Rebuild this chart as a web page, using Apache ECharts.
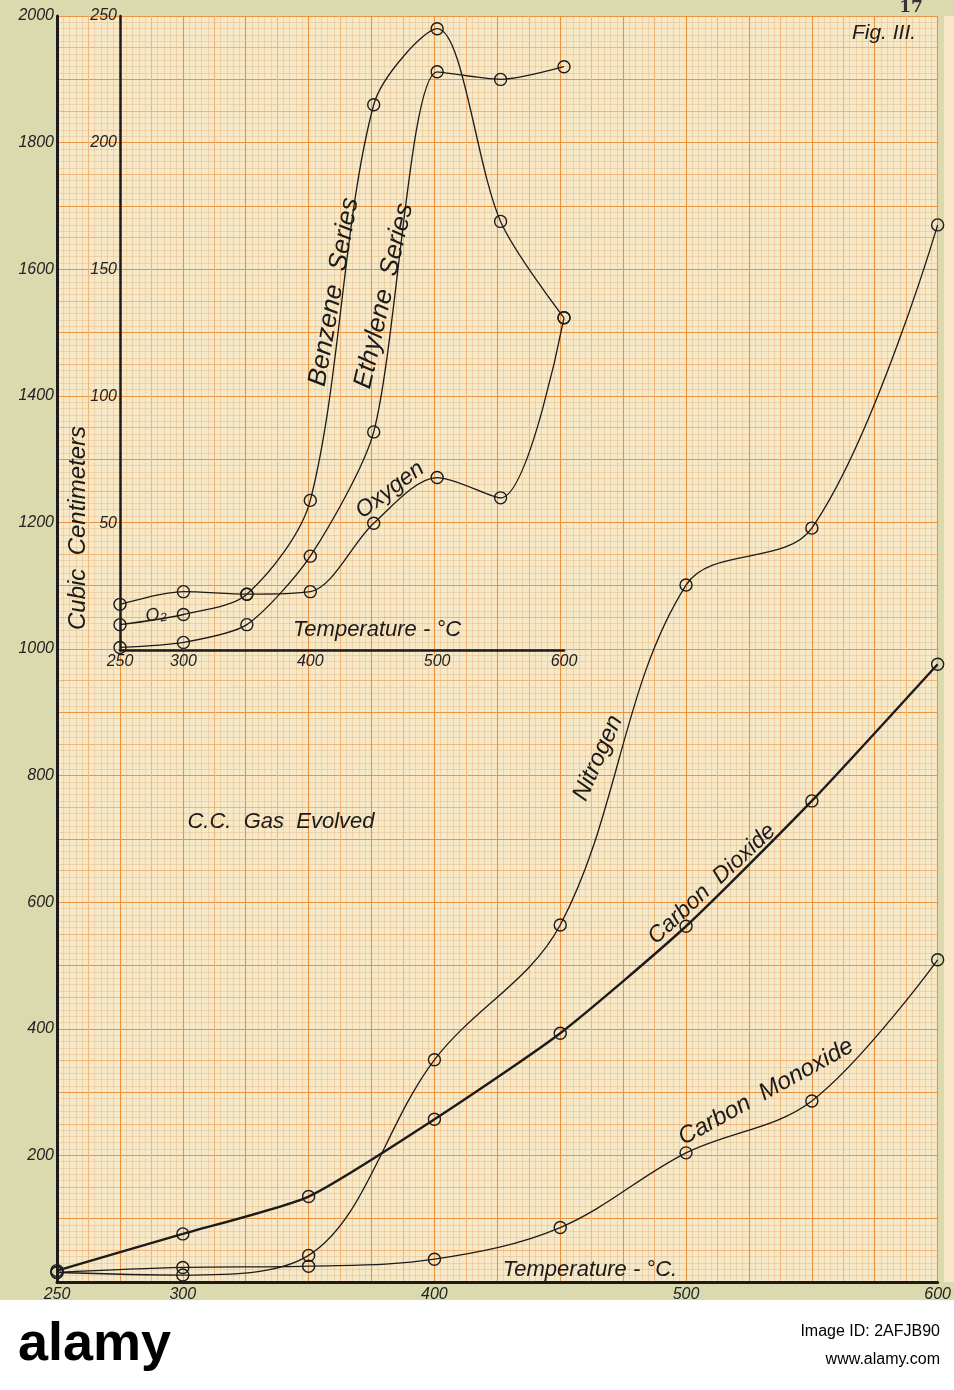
<!DOCTYPE html>
<html><head><meta charset="utf-8">
<script src="https://cdn.jsdelivr.net/npm/echarts@6/dist/echarts.min.js"></script>
<style>html,body{margin:0;padding:0;background:#dbdaae}#c{width:954px;height:1390px}</style>
</head><body><div id="c"></div>
<script>
// ---- data ----
const temps = [250, 300, 350, 400, 450, 500, 550, 600];
const nitrogen = [15, 11, 42, 351, 564, 1101, 1191, 1670];
const carbonDioxide = [18, 76, 135, 257, 393, 562, 760, 976];
const carbonMonoxide = [15, 23, 25, 36, 86, 204, 286, 509];
const benzeneSeries = [10, 14, 22, 59, 215, 245, 169, 131];
const ethyleneSeries = [1, 3, 10, 37, 86, 228, 225, 230];
const oxygen = [18, 23, 22, 23, 50, 68, 60, 131];
const mainXTicks = [250, 300, 400, 500, 600];
const mainYTicks = [200, 400, 600, 800, 1000, 1200, 1400, 1600, 1800, 2000];
const insetXTicks = [250, 300, 400, 500, 600];
const insetYTicks = [50, 100, 150, 200, 250];

// ---- styles ----
const F = "'Liberation Sans', 'DejaVu Sans', sans-serif";
const INK = '#1b1b1b';
const PAPER = '#f7e8c8';
const MAJOR = '#eb9440';
const MED = '#f1b678';
const FINE = 'rgba(215,160,100,0.5)';
const lbl = { fontStyle: 'italic', fontFamily: F, fontSize: 16, color: '#222' };
const pairs = arr => temps.map((t, i) => [t, arr[i]]);

function line(name, arr, gi, width, smooth) {
  return {
    name, type: 'line', xAxisIndex: gi, yAxisIndex: gi, data: pairs(arr),
    smooth: smooth, clip: false, symbol: 'circle', symbolSize: 12,
    itemStyle: { color: 'rgba(0,0,0,0)', borderColor: INK, borderWidth: 1.4 },
    lineStyle: { color: INK, width: width },
    emphasis: { disabled: true }, z: 5
  };
}

const chart = echarts.init(document.getElementById('c'), null, { renderer: 'canvas' });
const deg = d => d * Math.PI / 180;
function txt(text, x, y, rot, size) {
  return {
    type: 'text', x, y, rotation: deg(rot || 0), z: 20,
    style: { text, font: 'italic ' + (size || 22) + 'px ' + F, fill: INK, textAlign: 'center', textVerticalAlign: 'middle' }
  };
}

chart.setOption({
  animation: false,
  backgroundColor: '#dbdaae',
  grid: [
    { left: 57, right: 10, top: 16, bottom: 108, show: true, backgroundColor: PAPER, borderWidth: 0 },
    { left: 120, right: 390, top: 16, bottom: 740, show: false }
  ],
  xAxis: [
    { gridIndex: 0, type: 'value', min: 250, max: 600, interval: 12.5,
      axisLine: { show: true, onZero: false, lineStyle: { color: INK, width: 3 } },
      axisTick: { show: false },
      axisLabel: Object.assign({ margin: 5, formatter: v => mainXTicks.includes(v) ? String(v) : '' }, lbl),
      splitLine: { show: true, lineStyle: { color: [MAJOR, MED], width: 1.1 } },
      minorTick: { show: false, splitNumber: 5 },
      minorSplitLine: { show: true, lineStyle: { color: FINE, width: 0.6 } } },
    { gridIndex: 1, type: 'value', min: 250, max: 600, interval: 50,
      axisLine: { show: true, onZero: false, lineStyle: { color: INK, width: 2.5 } },
      axisTick: { show: false },
      axisLabel: Object.assign({ margin: 4, formatter: v => insetXTicks.includes(v) ? String(v) : '' }, lbl),
      splitLine: { show: false } }
  ],
  yAxis: [
    { gridIndex: 0, type: 'value', min: 0, max: 2000, interval: 50,
      axisLine: { show: true, onZero: false, lineStyle: { color: INK, width: 3 } },
      axisTick: { show: false },
      axisLabel: Object.assign({ margin: 3, formatter: v => mainYTicks.includes(v) ? String(v) : '' }, lbl),
      splitLine: { show: true, lineStyle: { color: [MAJOR, MED], width: 1.1 } },
      minorTick: { show: false, splitNumber: 5 },
      minorSplitLine: { show: true, lineStyle: { color: FINE, width: 0.6 } } },
    { gridIndex: 1, type: 'value', min: 0, max: 250, interval: 50,
      axisLine: { show: true, onZero: false, lineStyle: { color: INK, width: 2.5 } },
      axisTick: { show: false },
      axisLabel: Object.assign({ margin: 3, formatter: v => insetYTicks.includes(v) ? String(v) : '' }, lbl),
      splitLine: { show: false } }
  ],
  series: [
    line('Nitrogen', nitrogen, 0, 1.3, 0.35),
    line('Carbon Dioxide', carbonDioxide, 0, 2.4, 0.2),
    line('Carbon Monoxide', carbonMonoxide, 0, 1.3, 0.35),
    line('Benzene Series', benzeneSeries, 1, 1.3, 0.3),
    line('Ethylene Series', ethyleneSeries, 1, 1.3, 0.25),
    line('Oxygen', oxygen, 1, 1.3, 0.3)
  ],
  graphic: [
    { type: 'rect', shape: { x: 944, y: 16, width: 10, height: 1266 }, style: { fill: PAPER }, z: -1, silent: true },
    txt('Benzene  Series', 334, 292, 80, 26),
    txt('Ethylene  Series', 384, 296, 77, 26),
    txt('Oxygen', 390, 490, 37, 23),
    txt('O\u2082', 156, 615, 10, 18),
    txt('Cubic  Centimeters', 78, 528, 90, 24),
    txt('Temperature - \u00B0C', 377, 630, 0, 22),
    txt('C.C.  Gas  Evolved', 281, 822, 0, 22),
    txt('Nitrogen', 598, 758, 66, 24),
    txt('Carbon  Dioxide', 712, 884, 43, 23),
    txt('Carbon  Monoxide', 766, 1092, 29, 24),
    txt('Temperature - \u00B0C.', 590, 1270, 0, 22),
    txt('Fig. III.', 884, 33, 0, 21),
    { type: 'text', x: 911, y: 8, z: 20, style: { text: '17', font: 'bold 17px "DejaVu Serif", serif', fill: '#333', textAlign: 'center', textVerticalAlign: 'middle' } },
    { type: 'rect', shape: { x: 0, y: 1300, width: 954, height: 90 }, style: { fill: '#ffffff' }, z: 30 },
    { type: 'text', x: 18, y: 1345, z: 31, style: { text: 'alamy', font: 'bold 54px ' + F, fill: '#000', textAlign: 'left', textVerticalAlign: 'middle' } },
    { type: 'text', x: 940, y: 1332, z: 31, style: { text: 'Image ID: 2AFJB90', font: '16px ' + F, fill: '#000', textAlign: 'right', textVerticalAlign: 'middle' } },
    { type: 'text', x: 940, y: 1360, z: 31, style: { text: 'www.alamy.com', font: '16px ' + F, fill: '#000', textAlign: 'right', textVerticalAlign: 'middle' } }
  ]
});
</script>
</body></html>
